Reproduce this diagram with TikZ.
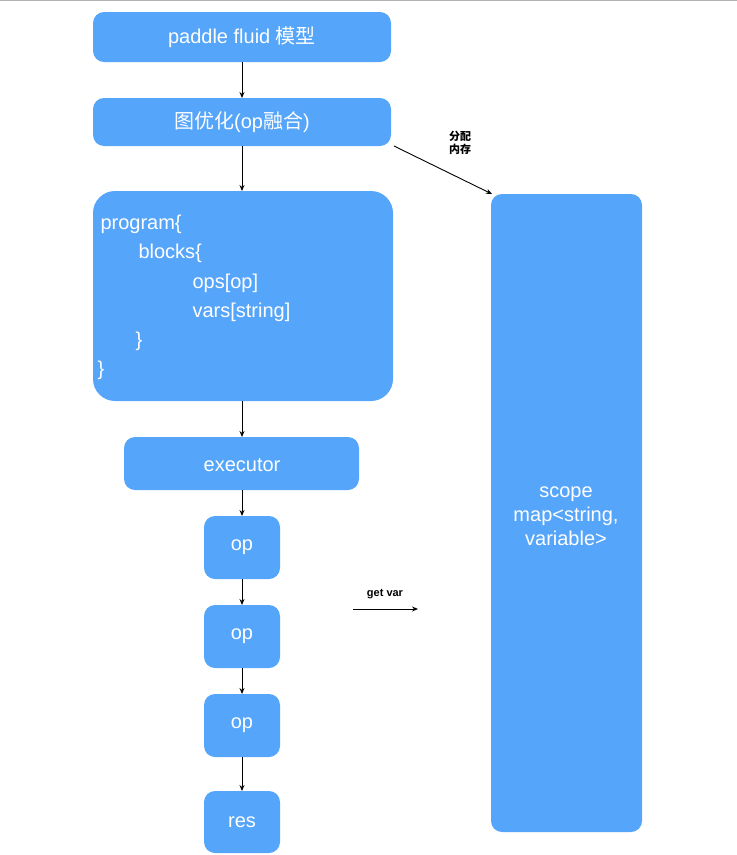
\documentclass[tikz,border=0pt]{standalone}
\usepackage{fontspec}
\setmainfont{Liberation Sans}
\newfontfamily\cjk{Noto Sans CJK SC}
\usetikzlibrary{arrows.meta}
\definecolor{boxblue}{HTML}{55A5FA}
\begin{document}
\begin{tikzpicture}[x=1pt,y=-1pt,
 box/.style={fill=boxblue,draw=none,rounded corners=11pt,text=white,font=\fontsize{20}{24}\selectfont},
 arr/.style={-{Stealth[length=6pt,width=5pt]},line width=0.9pt},
 lbl/.style={font=\bfseries\fontsize{11}{13}\selectfont,align=center}]
\useasboundingbox (0,0) rectangle (737,855);
\draw[gray!60,line width=0.8pt] (0,0.5) -- (737,0.5);
\path[box] (93,12) rectangle (391,62); \node[text=white,font=\fontsize{20}{24}\selectfont] (a) at (242,37) {paddle fluid {\cjk 模型}};
\coordinate (aS) at (242,62);
\path[box] (93,98) rectangle (391,146); \node[text=white,font=\fontsize{20}{24}\selectfont] (b) at (242,122) {{\cjk 图优化}(op{\cjk 融合})};
\coordinate (bN) at (242,98); \coordinate (bS) at (242,146); \coordinate (bE) at (394,146);
\path[box,rounded corners=22pt] (93,191) rectangle (393,401);
\coordinate (cN) at (242,191); \coordinate (cS) at (242,401);
\begin{scope}[every node/.style={text=white,font=\fontsize{20}{24}\selectfont,anchor=west}]
\node (p1) at (97,224) {program\{};
\node (p2) at (135,253) {blocks\{};
\node (p3) at (189,283) {ops[op]};
\node (p4) at (189,312) {vars[string]};
\node (p5) at (132,341) {\}};
\node (p6) at (94,370) {\}};
\end{scope}
\path[box] (124,437) rectangle (359,490); \node[text=white,font=\fontsize{20}{24}\selectfont] (e) at (242,465) {executor};
\coordinate (eN) at (242,437); \coordinate (eS) at (242,490);
\foreach \n/\t/\yt/\yb in {o1/op/516/579,o2/op/605/668,o3/op/694/757,r/res/791/853}{
 \path[box] (204,\yt) rectangle (280,\yb);
 \node[text=white,font=\fontsize{20}{24}\selectfont] (\n) at (242,{(\yt+\yb)/2}) {\t};
 \coordinate (\n N) at (242,\yt); \coordinate (\n S) at (242,\yb);
}
\path[box] (491,194) rectangle (642,832);
\node[text=white,font=\fontsize{20}{24}\selectfont,align=center] (s) at (566,516) {scope\\map<string,\\variable>};
\coordinate (sNW) at (492,194);
\draw[arr] (aS) -- (bN);
\draw[arr] (bS) -- (cN);
\draw[arr] (cS) -- (eN);
\draw[arr] (eS) -- (o1N);
\draw[arr] (o1S) -- (o2N);
\draw[arr] (o2S) -- (o3N);
\draw[arr] (o3S) -- (rN);
\draw[arr] (bE) -- (sNW);
\node[lbl] (l1) at (460,143) {{\cjk 分配}\\{\cjk 内存}};
\coordinate (g1) at (353,609); \coordinate (g2) at (418,609);
\draw[arr] (g1) -- (g2);
\node[lbl] (l2) at (385,594) {get var};
\end{tikzpicture}
\end{document}
